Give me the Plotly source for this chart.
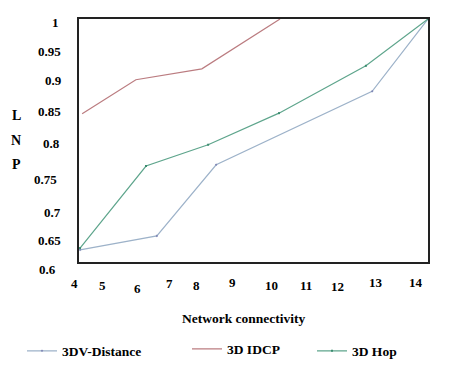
import plotly.graph_objects as go

# ---- data ----
dist_x = [4.03, 6.23, 7.93, 12.40, 14.0]
dist_y = [0.620, 0.643, 0.760, 0.881, 1.000]

idcp_x = [4.09, 5.63, 7.52, 9.76]
idcp_y = [0.844, 0.900, 0.918, 1.000]

hop_x = [4.03, 5.92, 7.70, 9.73, 12.22, 14.0]
hop_y = [0.623, 0.758, 0.793, 0.845, 0.923, 1.000]

x_tick_labels = ["4", "5", "6", "7", "8", "9", "10", "11", "12", "13", "14"]
y_tick_labels = ["1", "0.95", "0.9", "0.85", "0.8", "0.75", "0.7", "0.65", "0.6"]

# label placement in page pixels (the reference's tick labels sit irregularly)
x_tick_px = [74, 102, 137, 169, 196, 232, 271, 306, 337, 376, 416]
x_tick_py = [283, 285, 288, 283, 285, 282, 285, 285, 286, 282, 282]
y_tick_py = [22, 51, 81, 111, 143, 179, 212, 240, 269]
y_tick_px = [55, 49, 53, 49, 51, 45, 52, 49, 47]

# page has an 8px body margin around the figure
OFF = 8
W, H = 474 - OFF, 376 - OFF
PL, PT, PR, PB = 79, 19, 428, 262          # plot frame in page pixels
L, T = PL - OFF, PT - OFF
R, B = (W + OFF) - PR, (H + OFF) - PB
PW, PH = PR - PL, PB - PT

FONT = "'Times New Roman', 'Liberation Serif', 'DejaVu Serif', serif"

def px_x(px):
    return (px - PL) / PW

def px_y(py):
    return 1 - (py - PT) / PH

fig = go.Figure()
fig.add_trace(go.Scatter(x=dist_x, y=dist_y, name="<b>3DV-Distance</b>", mode="lines+markers",
                         line=dict(color="#9DB2C9", width=1.2),
                         marker=dict(symbol="diamond", size=2, color="#7F86B5"),
                         legend="legend"))
fig.add_trace(go.Scatter(x=idcp_x, y=idcp_y, name="<b>3D IDCP</b>", mode="lines",
                         line=dict(color="#BB7C80", width=1.2),
                         legend="legend2"))
fig.add_trace(go.Scatter(x=hop_x, y=hop_y, name="<b>3D Hop</b>", mode="lines+markers",
                         line=dict(color="#5EA58C", width=1.2),
                         marker=dict(symbol="square", size=2, color="#3C8C70"),
                         legend="legend3"))

tfont = dict(family=FONT, size=13, color="black")
annotations = []
for lab, xp, yp in zip(x_tick_labels, x_tick_px, x_tick_py):
    annotations.append(dict(text="<b>%s</b>" % lab, x=px_x(xp), xref="paper", y=px_y(yp), yref="paper",
                            xanchor="center", yanchor="middle", showarrow=False, font=tfont))
for lab, yp, xp in zip(y_tick_labels, y_tick_py, y_tick_px):
    annotations.append(dict(text="<b>%s</b>" % lab, x=px_x(xp), xref="paper", y=px_y(yp), yref="paper",
                            xanchor="center", yanchor="middle", showarrow=False, font=tfont))
for ch, py in zip(["L", "N", "P"], [115, 140, 164]):
    annotations.append(dict(text="<b>%s</b>" % ch, x=px_x(16), xref="paper", y=px_y(py), yref="paper",
                            xanchor="center", yanchor="middle", showarrow=False,
                            font=dict(family=FONT, size=14, color="black")))
annotations.append(dict(text="<b>Network connectivity</b>", x=px_x(244), xref="paper",
                        y=px_y(318), yref="paper", xanchor="center", yanchor="middle",
                        showarrow=False, font=dict(family=FONT, size=13.5, color="black")))

leg_common = dict(orientation="h", yanchor="middle", xanchor="left", bgcolor="rgba(0,0,0,0)",
                  font=dict(family=FONT, size=13.5, color="black"), borderwidth=0)

fig.update_layout(
    width=W, height=H,
    margin=dict(l=L, r=R, t=T, b=B, autoexpand=False),
    paper_bgcolor="white", plot_bgcolor="white",
    xaxis=dict(range=[4, 14], showgrid=False, zeroline=False, showticklabels=False,
               ticks="", showline=True, mirror=True, linecolor="#222", linewidth=2),
    yaxis=dict(range=[0.6, 1.0], showgrid=False, zeroline=False, showticklabels=False,
               ticks="", showline=True, mirror=True, linecolor="#222", linewidth=2),
    annotations=annotations,
    legend=dict(x=px_x(22), y=px_y(351), **leg_common),
    legend2=dict(x=px_x(187), y=px_y(349), **leg_common),
    legend3=dict(x=px_x(312), y=px_y(351), **leg_common),
    showlegend=True,
)

fig.write_html("out.html")
